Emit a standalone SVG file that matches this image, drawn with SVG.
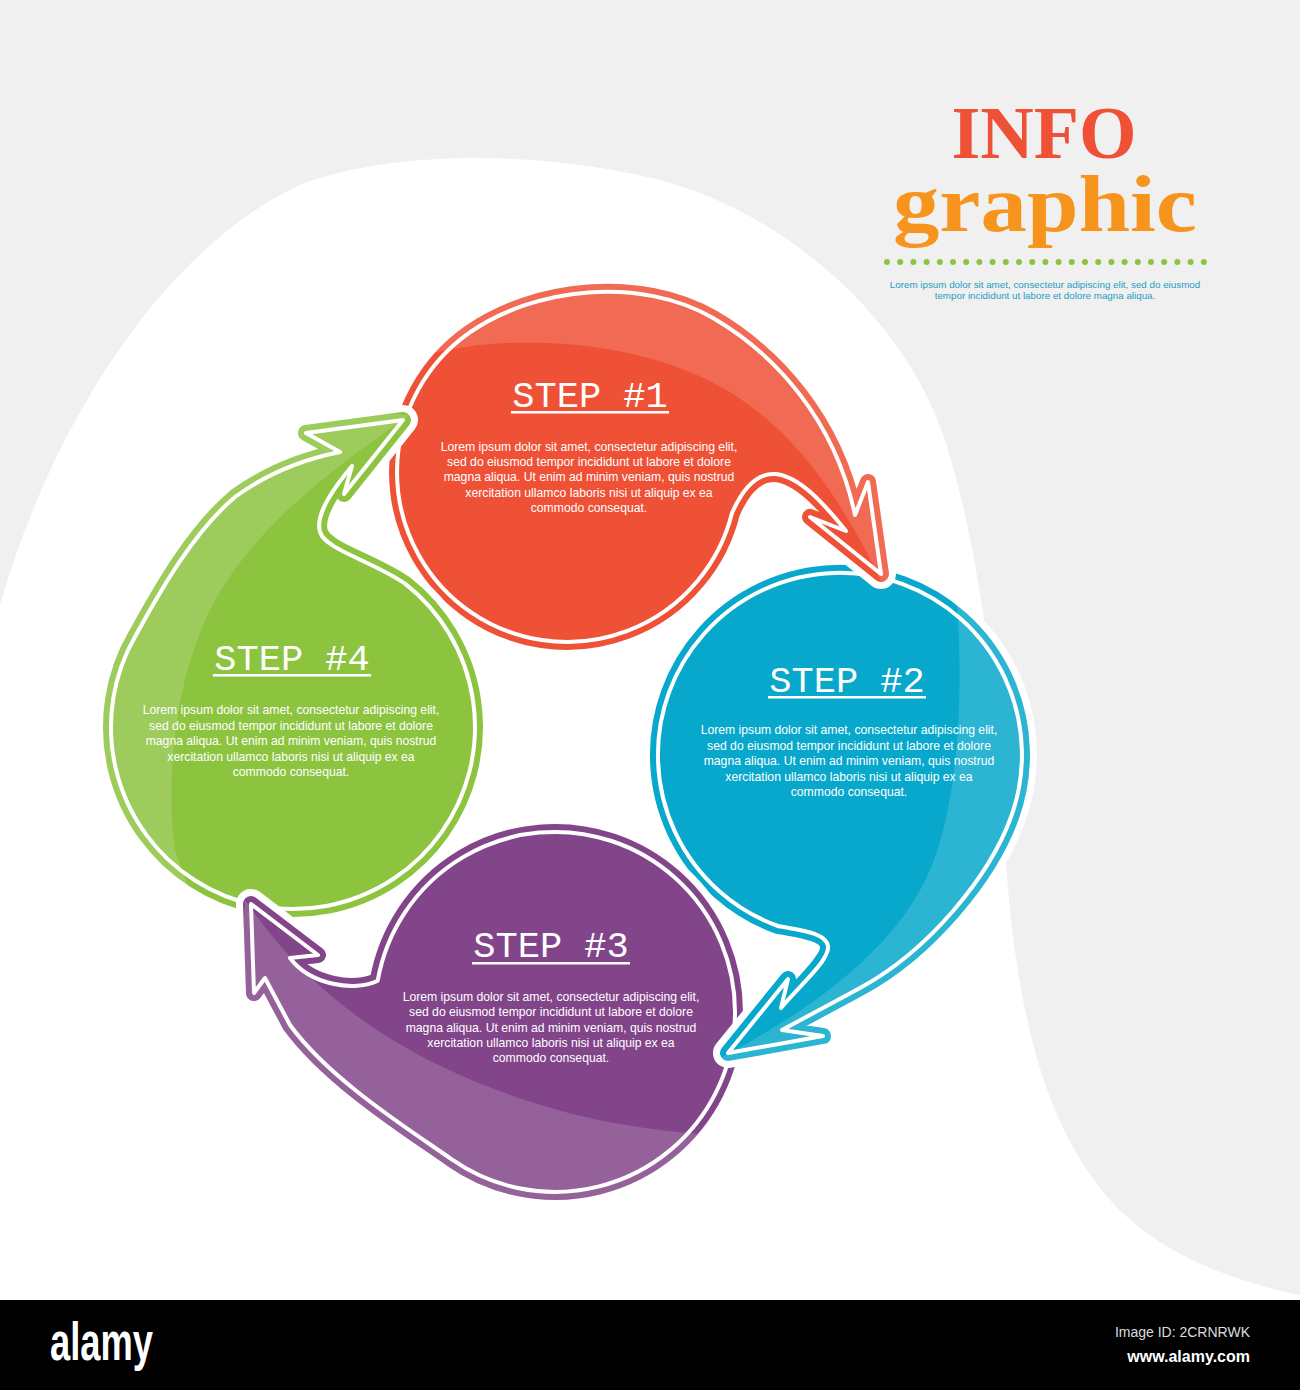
<svg xmlns="http://www.w3.org/2000/svg" xmlns:xlink="http://www.w3.org/1999/xlink" width="1300" height="1390" viewBox="0 0 1300 1390">
<style>
.halo{fill:#fff;stroke:#fff;stroke-width:30;stroke-linejoin:round}
.red{fill:#ef5136;stroke:#ef5136;stroke-width:16;stroke-linejoin:round}
.blue{fill:#07a8cc;stroke:#07a8cc;stroke-width:16;stroke-linejoin:round}
.purple{fill:#82458a;stroke:#82458a;stroke-width:16;stroke-linejoin:round}
.green{fill:#8cc43f;stroke:#8cc43f;stroke-width:16;stroke-linejoin:round}
.inl{fill:none;stroke:#fff;stroke-width:4;stroke-linejoin:round}
.mk{fill:#fff;stroke:#fff;stroke-width:16;stroke-linejoin:round}
.hl{fill:#fff;opacity:.15}
.step{font-family:"Liberation Mono","DejaVu Sans Mono",monospace;font-size:37px;fill:#fff;text-anchor:middle}
.body{font-family:"Liberation Sans",Arial,sans-serif;font-size:12.2px;fill:#fff;text-anchor:middle}
.ul{fill:#fff}
</style>
<defs>
<path id="p1" d="M 732,513 A 170 170 0 1 1 469.5,332.7 C 535,287 640,276 713,318 C 775,354 835,420 855,515 L 868,482 L 881,574 L 810,517 L 846,531 C 825,505 800,476 775,474 C 755,473 742,490 732,513 Z"/>
<path id="p2" d="M 778,926 A 182 182 0 1 1 1011,817 C 990,875 930,950 860,988 L 782,1030 L 823,1036 L 728,1053 L 788,979 L 781,1008 C 800,985 830,960 828,946 C 826,932 798,930 778,926 Z"/>
<path id="p3" d="M 377.7,980.7 A 180 180 0 1 1 451.8,1159.4 C 410,1130 330,1080 290,1025 L 265,978 L 254,993 L 251,904 L 318,955 L 290,958 C 310,985 355,992 377.7,980.7 Z"/>
<path id="p4" d="M 405,583.6 A 182 182 0 1 1 135.4,636 C 155,601 190,535 235,497 C 265,475 300,460 340,452 L 306,433 L 403,420 L 344,494 L 352,466 C 332,490 315,515 320,532 C 326,550 370,560 405,583.6 Z"/>
<mask id="m1" maskUnits="userSpaceOnUse" x="0" y="0" width="1300" height="1390"><use xlink:href="#p1" class="mk"/></mask>
<mask id="m2" maskUnits="userSpaceOnUse" x="0" y="0" width="1300" height="1390"><use xlink:href="#p2" class="mk"/></mask>
<mask id="m3" maskUnits="userSpaceOnUse" x="0" y="0" width="1300" height="1390"><use xlink:href="#p3" class="mk"/></mask>
<mask id="m4" maskUnits="userSpaceOnUse" x="0" y="0" width="1300" height="1390"><use xlink:href="#p4" class="mk"/></mask>
<g id="art2">
<use xlink:href="#p2" class="halo"/>
<use xlink:href="#p2" class="blue"/>
<path class="hl" mask="url(#m2)" d="M 955,580 C 965,680 960,800 930,870 C 900,940 830,1000 720,1058 L 720,1090 L 1060,1090 L 1060,560 Z"/>
<use xlink:href="#p2" class="inl"/>
</g>
<clipPath id="tipclip"><rect x="695" y="960" width="140" height="120"/></clipPath>
</defs>

<rect x="0" y="0" width="1300" height="1300" fill="#f0f0f0"/>
<path d="M 0,605 C 50,430 160,250 300,185 C 390,150 540,150 660,180 C 790,215 905,320 945,440 C 980,550 998,700 1005,850 C 1015,1000 1040,1120 1110,1200 C 1160,1255 1230,1280 1300,1295 L 1300,1300 L 0,1300 Z" fill="#fff"/>

<g id="title">
<text x="1044" y="158" font-family="Liberation Serif,serif" font-weight="bold" font-size="74" fill="#ef5136" text-anchor="middle">INFO</text>
<text x="893" y="231" font-family="Liberation Serif,serif" font-weight="bold" font-size="80" fill="#f7941d" textLength="304" lengthAdjust="spacingAndGlyphs">graphic</text>
<line x1="887" y1="262" x2="1204" y2="262" stroke="#8cc43f" stroke-width="6" stroke-linecap="round" stroke-dasharray="0 13.2"/>
<text x="1045" y="288" font-family="Liberation Sans,Arial,sans-serif" font-size="9.8" fill="#1d9fc2" text-anchor="middle">Lorem ipsum dolor sit amet, consectetur adipiscing elit, sed do eiusmod</text>
<text x="1045" y="299" font-family="Liberation Sans,Arial,sans-serif" font-size="9.8" fill="#1d9fc2" text-anchor="middle">tempor incididunt ut labore et dolore magna aliqua.</text>
</g>

<g id="step2">
<use xlink:href="#art2"/>
<text class="step" x="847" y="692">STEP #2</text>
<rect class="ul" x="768" y="696" width="158" height="2.5"/>
<text class="body" x="849" y="734">Lorem ipsum dolor sit amet, consectetur adipiscing elit,</text>
<text class="body" x="849" y="750">sed do eiusmod tempor incididunt ut labore et dolore</text>
<text class="body" x="849" y="765">magna aliqua. Ut enim ad minim veniam, quis nostrud</text>
<text class="body" x="849" y="781">xercitation ullamco laboris nisi ut aliquip ex ea</text>
<text class="body" x="849" y="796">commodo consequat.</text>
</g>

<g id="step1">
<use xlink:href="#p1" class="halo"/>
<use xlink:href="#p1" class="red"/>
<path class="hl" mask="url(#m1)" d="M 380,380 L 410,360 C 480,335 600,335 690,372 C 770,405 830,470 885,590 L 950,590 L 950,240 L 380,240 Z"/>
<use xlink:href="#p1" class="inl"/>
<text class="step" x="590" y="407">STEP #1</text>
<rect class="ul" x="511" y="411" width="158" height="2.5"/>
<text class="body" x="589" y="451">Lorem ipsum dolor sit amet, consectetur adipiscing elit,</text>
<text class="body" x="589" y="466">sed do eiusmod tempor incididunt ut labore et dolore</text>
<text class="body" x="589" y="481">magna aliqua. Ut enim ad minim veniam, quis nostrud</text>
<text class="body" x="589" y="497">xercitation ullamco laboris nisi ut aliquip ex ea</text>
<text class="body" x="589" y="512">commodo consequat.</text>
</g>

<g id="step4">
<use xlink:href="#p4" class="halo"/>
<use xlink:href="#p4" class="green"/>
<path class="hl" mask="url(#m4)" d="M 410,415 C 330,470 250,530 210,610 C 175,680 165,780 175,850 L 200,920 L 80,920 L 80,400 Z"/>
<use xlink:href="#p4" class="inl"/>
<text class="step" x="292" y="670">STEP #4</text>
<rect class="ul" x="213" y="674" width="158" height="2.5"/>
<text class="body" x="291" y="714">Lorem ipsum dolor sit amet, consectetur adipiscing elit,</text>
<text class="body" x="291" y="730">sed do eiusmod tempor incididunt ut labore et dolore</text>
<text class="body" x="291" y="745">magna aliqua. Ut enim ad minim veniam, quis nostrud</text>
<text class="body" x="291" y="761">xercitation ullamco laboris nisi ut aliquip ex ea</text>
<text class="body" x="291" y="776">commodo consequat.</text>
</g>

<g id="step3">
<use xlink:href="#p3" class="halo"/>
<use xlink:href="#p3" class="purple"/>
<path class="hl" mask="url(#m3)" d="M 245,900 C 300,980 370,1035 460,1075 C 540,1110 620,1130 720,1135 L 760,1220 L 230,1220 Z"/>
<use xlink:href="#p3" class="inl"/>
<text class="step" x="551" y="957">STEP #3</text>
<rect class="ul" x="472" y="962" width="158" height="2.5"/>
<text class="body" x="551" y="1001">Lorem ipsum dolor sit amet, consectetur adipiscing elit,</text>
<text class="body" x="551" y="1016">sed do eiusmod tempor incididunt ut labore et dolore</text>
<text class="body" x="551" y="1032">magna aliqua. Ut enim ad minim veniam, quis nostrud</text>
<text class="body" x="551" y="1047">xercitation ullamco laboris nisi ut aliquip ex ea</text>
<text class="body" x="551" y="1062">commodo consequat.</text>
</g>

<g id="connectors">
<use xlink:href="#art2" clip-path="url(#tipclip)"/>
</g>

<g id="footer">
<rect x="0" y="1300" width="1300" height="90" fill="#000"/>
<text x="50" y="1360" font-family="Liberation Sans Narrow,Liberation Sans,sans-serif" font-weight="bold" font-size="54" fill="#fff" textLength="103" lengthAdjust="spacingAndGlyphs">alamy</text>
<text x="1250" y="1337" font-family="Liberation Sans Narrow,Liberation Sans,sans-serif" font-size="14" fill="#ddd" text-anchor="end">Image ID: 2CRNRWK</text>
<text x="1250" y="1362" font-family="Liberation Sans Narrow,Liberation Sans,sans-serif" font-weight="bold" font-size="16" fill="#fff" text-anchor="end">www.alamy.com</text>
</g>
</svg>
